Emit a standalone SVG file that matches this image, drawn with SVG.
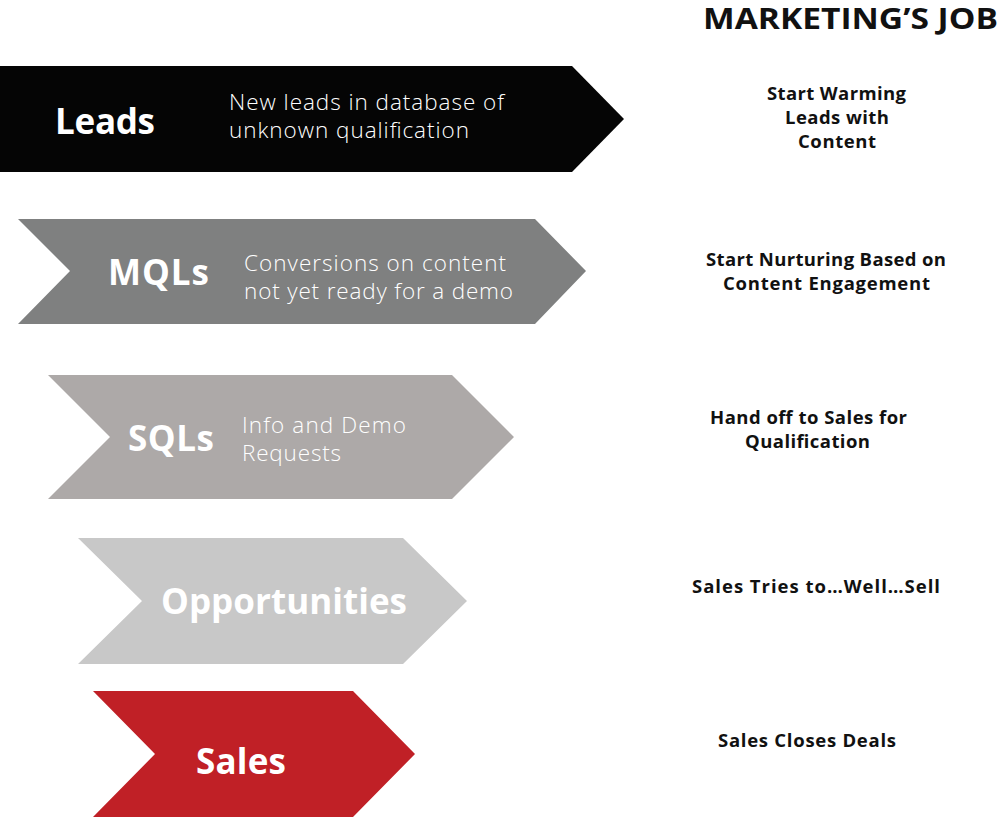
<svg xmlns="http://www.w3.org/2000/svg" width="1000" height="819" viewBox="0 0 1000 819">
<style>
.lbl{font-family:"Open Sans",Lato,sans-serif;font-weight:700;fill:#fff;font-size:35px}
.desc{font-family:"Open Sans",Lato,sans-serif;font-weight:300;fill:#fff;font-size:22.5px}
.job{font-family:"Open Sans",Lato,sans-serif;font-weight:700;fill:#111;font-size:18.5px;text-anchor:middle}
.title{font-family:"Open Sans",Lato,sans-serif;font-weight:700;fill:#111;font-size:29px}
</style>
<rect width="1000" height="819" fill="#fff"/>
<text class="title" x="703" y="29" textLength="295" lengthAdjust="spacingAndGlyphs">MARKETING’S JOB</text>
<g id="leads">
<polygon points="0,66 572,66 624,119 572,172 0,172" fill="#050505"/>
<text class="lbl" x="55" y="134" textLength="100">Leads</text>
<text class="desc" x="229" y="110" textLength="275">New leads in database of</text>
<text class="desc" x="229" y="138" textLength="240">unknown qualification</text>
</g>
<g id="mqls">
<polygon points="18,219 535,219 586,271 535,324 18,324 70,271" fill="#7f8080"/>
<text class="lbl" x="108" y="285" textLength="101">MQLs</text>
<text class="desc" x="244" y="271" textLength="262">Conversions on content</text>
<text class="desc" x="244" y="299" textLength="269">not yet ready for a demo</text>
</g>
<g id="sqls">
<polygon points="48,375 452,375 514,437 452,499 48,499 110,437" fill="#ada9a8"/>
<text class="lbl" x="128" y="451" textLength="86">SQLs</text>
<text class="desc" x="242" y="433" textLength="164">Info and Demo</text>
<text class="desc" x="242" y="461" textLength="99">Requests</text>
</g>
<g id="opportunities">
<polygon points="78,538 403,538 467,601 403,664 78,664 142,601" fill="#c8c8c8"/>
<text class="lbl" x="161" y="614" textLength="246">Opportunities</text>
</g>
<g id="sales">
<polygon points="93,691 353,691 415,754 353,817 93,817 155,754" fill="#c02026"/>
<text class="lbl" x="196" y="774" textLength="90">Sales</text>
</g>
<g id="jobs">
<text class="job" x="836.5" y="100" textLength="139">Start Warming</text>
<text class="job" x="837" y="124" textLength="104">Leads with</text>
<text class="job" x="837" y="148" textLength="78">Content</text>
<text class="job" x="826" y="266" textLength="240">Start Nurturing Based on</text>
<text class="job" x="826.5" y="290" textLength="207">Content Engagement</text>
<text class="job" x="808.5" y="424" textLength="197">Hand off to Sales for</text>
<text class="job" x="807.5" y="448" textLength="125">Qualification</text>
<text class="job" x="816" y="593" textLength="248">Sales Tries to…Well…Sell</text>
<text class="job" x="807" y="747" textLength="178">Sales Closes Deals</text>
</g>
<g id="connectors"/>
</svg>
